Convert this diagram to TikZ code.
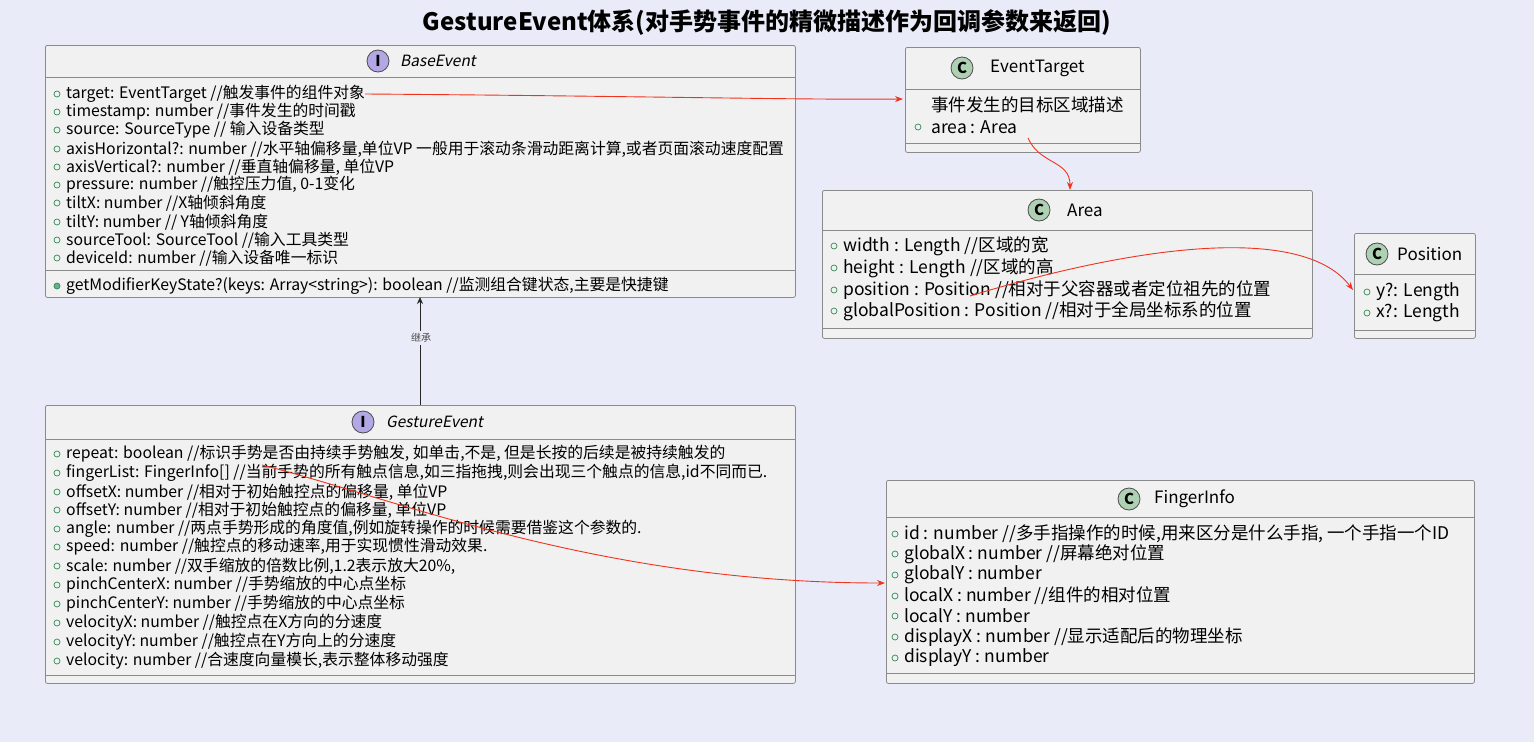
\documentclass[tikz,border=0pt]{standalone}
\usepackage{fontspec}
\setmainfont{Noto Sans CJK SC}
\newfontfamily\itf{Noto Sans CJK SC}[FakeSlant=0.2]
\usetikzlibrary{arrows.meta}
\definecolor{bgc}{HTML}{E9ECF8}
\definecolor{boxc}{HTML}{F1F1F1}
\definecolor{bordc}{HTML}{8A8A8A}
\definecolor{gc}{HTML}{ADD1B2}
\definecolor{ic}{HTML}{B4A7E5}
\definecolor{mk}{HTML}{2E8B57}
\definecolor{rc}{HTML}{F0331E}
\tikzset{
  cls/.style={draw=bordc,fill=boxc,rounded corners=2pt,anchor=north west,inner sep=0pt,line width=0.8pt},
  row/.style={anchor=west,inner sep=0pt,font=\fontsize{15.8}{17}\selectfont},
  hdr/.style={anchor=west,inner sep=0pt,font=\fontsize{17}{19}\selectfont},
  ihdr/.style={anchor=west,inner sep=0pt,font=\fontsize{15.5}{17}\selectfont\itf},
  itm/.style={draw=mk,circle,inner sep=0pt,minimum size=6pt,line width=0.7pt},
  icon/.style={draw=black!70,circle,inner sep=0pt,minimum size=22pt,font=\fontsize{15}{15}\selectfont\bfseries,line width=0.8pt},
  rel/.style={draw=rc,line width=0.9pt,-{Stealth[length=8pt,width=6pt]}},
}
\newcommand{\rowat}[4]{% name, x, y, text
  \node[itm] at (#2,#3) {};
  \node[row] (#1) at (#2+9,#3) {#4};
}
\begin{document}
\begin{tikzpicture}[x=1pt,y=-1pt]
\fill[bgc] (0,0) rectangle (1534,742);
\useasboundingbox (0,0) rectangle (1534,742);
\node[font=\fontsize{24}{26}\selectfont\bfseries] (title) at (767,22) {GestureEvent体系(对手势事件的精微描述作为回调参数来返回)};

% BaseEvent
\node[cls,minimum width=750pt,minimum height=252pt] (base) at (45,45) {};
\draw[bordc,line width=0.8pt] (45,77) -- (795,77) (45,270) -- (795,270);
\node[icon,fill=ic] (bi) at (378,61) {I};
\node[ihdr] (bt) at (400,61) {BaseEvent};
\rowat{b1}{57}{94}{target: EventTarget //触发事件的组件对象}
\rowat{b2}{57}{112}{timestamp: number //事件发生的时间戳}
\rowat{b3}{57}{130}{source: SourceType // 输入设备类型}
\rowat{b4}{57}{149}{axisHorizontal?: number //水平轴偏移量,单位VP 一般用于滚动条滑动距离计算,或者页面滚动速度配置}
\rowat{b5}{57}{167}{axisVertical?: number //垂直轴偏移量, 单位VP}
\rowat{b6}{57}{185}{pressure: number //触控压力值, 0-1变化}
\rowat{b7}{57}{203}{tiltX: number //X轴倾斜角度}
\rowat{b8}{57}{222}{tiltY: number // Y轴倾斜角度}
\rowat{b9}{57}{240}{sourceTool: SourceTool //输入工具类型}
\rowat{b10}{57}{258}{deviceId: number //输入设备唯一标识}
\node[itm,fill=mk!70] at (57,286) {};
\node[row] (bm) at (66,286) {getModifierKeyState?(keys: Array<string>): boolean //监测组合键状态,主要是快捷键};

% GestureEvent
\node[cls,minimum width=750pt,minimum height=278pt] (ge) at (45,405) {};
\draw[bordc,line width=0.8pt] (45,439) -- (795,439) (45,675) -- (795,675);
\node[icon,fill=ic] (gi) at (363,422) {I};
\node[ihdr] (gt) at (386,422) {GestureEvent};
\rowat{g1}{57}{454}{repeat: boolean //标识手势是否由持续手势触发, 如单击,不是, 但是长按的后续是被持续触发的}
\rowat{g2}{57}{473}{fingerList: FingerInfo[] //当前手势的所有触点信息,如三指拖拽,则会出现三个触点的信息,id不同而已.}
\rowat{g3}{57}{492}{offsetX: number //相对于初始触控点的偏移量, 单位VP}
\rowat{g4}{57}{510}{offsetY: number //相对于初始触控点的偏移量, 单位VP}
\rowat{g5}{57}{529}{angle: number //两点手势形成的角度值,例如旋转操作的时候需要借鉴这个参数的.}
\rowat{g6}{57}{547}{speed: number //触控点的移动速率,用于实现惯性滑动效果.}
\rowat{g7}{57}{566}{scale: number //双手缩放的倍数比例,1.2表示放大20\%,}
\rowat{g8}{57}{585}{pinchCenterX: number //手势缩放的中心点坐标}
\rowat{g9}{57}{604}{pinchCenterY: number //手势缩放的中心点坐标}
\rowat{g10}{57}{623}{velocityX: number //触控点在X方向的分速度}
\rowat{g11}{57}{642}{velocityY: number //触控点在Y方向上的分速度}
\rowat{g12}{57}{661}{velocity: number //合速度向量模长,表示整体移动强度}

% inheritance
\coordinate (inhA) at (420,405);
\coordinate (inhB) at (420,297);
\draw[black!85,line width=0.8pt,-{Stealth[length=7pt,width=6pt]}] (inhA) -- (inhB);
\node[fill=bgc,inner sep=2pt,font=\fontsize{10}{11}\selectfont,text=black!70] (inhL) at (421,338) {继承};

% right-side boxes use larger text
\tikzset{row/.append style={font=\fontsize{17.5}{19}\selectfont}}

% EventTarget
\node[cls,minimum width=235pt,minimum height=105pt] (et) at (905,47) {};
\draw[bordc,line width=0.8pt] (905,89) -- (1140,89) (905,143) -- (1140,143);
\node[icon,fill=gc] (ei) at (962,68) {C};
\node[hdr] (eth) at (990,68) {EventTarget};
\node[row] (e1) at (931,105) {事件发生的目标区域描述};
\node[itm] at (918,127) {};
\node[row] (e2) at (931,127) {area : Area};

% Area
\node[cls,minimum width=490pt,minimum height=148pt] (area) at (822,190) {};
\draw[bordc,line width=0.8pt] (822,230) -- (1312,230) (822,328) -- (1312,328);
\node[icon,fill=gc] (ai) at (1039,210) {C};
\node[hdr] (ah) at (1067,210) {Area};
\rowat{a1}{834}{246}{width : Length //区域的宽}
\rowat{a2}{834}{268}{height : Length //区域的高}
\rowat{a3}{834}{290}{position : Position //相对于父容器或者定位祖先的位置}
\rowat{a4}{834}{311}{globalPosition : Position //相对于全局坐标系的位置}

% Position
\node[cls,minimum width=121pt,minimum height=105pt] (pos) at (1354,233) {};
\draw[bordc,line width=0.8pt] (1354,274) -- (1475,274) (1354,330) -- (1475,330);
\node[icon,fill=gc] (pi) at (1377,254) {C};
\node[hdr] (ph) at (1397,254) {Position};
\rowat{p1}{1367}{292}{y?: Length}
\rowat{p2}{1367}{313}{x?: Length}

% FingerInfo
\node[cls,minimum width=588pt,minimum height=203pt] (fi) at (886,480) {};
\draw[bordc,line width=0.8pt] (886,517) -- (1474,517) (886,673) -- (1474,673);
\node[icon,fill=gc] (fii) at (1129,499) {C};
\node[hdr] (fih) at (1154,499) {FingerInfo};
\rowat{f1}{895}{534}{id : number //多手指操作的时候,用来区分是什么手指, 一个手指一个ID}
\rowat{f2}{895}{554}{globalX : number //屏幕绝对位置}
\rowat{f3}{895}{575}{globalY : number}
\rowat{f4}{895}{596}{localX : number //组件的相对位置}
\rowat{f5}{895}{616}{localY : number}
\rowat{f6}{895}{637}{displayX : number //显示适配后的物理坐标}
\rowat{f7}{895}{658}{displayY : number}

% relations
\coordinate (etIn) at (903,99);
\coordinate (arIn) at (1070,190);
\coordinate (psOut) at (970,296);
\coordinate (psIn) at (1353,290);
\coordinate (flOut) at (262,465);
\coordinate (fiIn) at (885,583);
\draw[rel] (b1.east) .. controls (640,96) and (800,100) .. (etIn);
\draw[rel] (1028,138) .. controls (1040,165) and (1070,160) .. (arIn);
\draw[rel] (psOut) .. controls (1120,250) and (1300,220) .. (psIn);
\draw[rel] (flOut) .. controls (400,500) and (600,583) .. (fiIn);
\end{tikzpicture}
\end{document}
